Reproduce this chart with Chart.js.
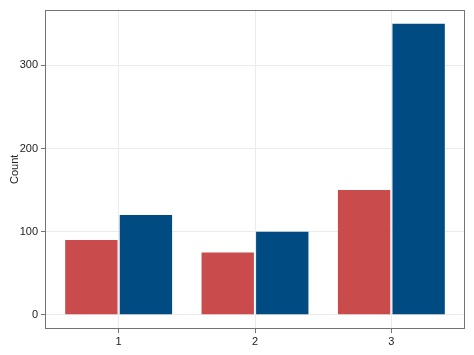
<!DOCTYPE html>
<html>
<head>
<meta charset="utf-8">
<script src="https://cdn.jsdelivr.net/npm/chart.js@4"></script>
<style>html,body{margin:0;padding:0;background:#fff;}canvas{display:block;}</style>
</head>
<body>
<canvas id="c" width="474" height="355"></canvas>
<script>
const categories = [1, 2, 3];
const seriesA = [90, 75, 150];
const seriesB = [120, 100, 350];
const yTicks = [0, 100, 200, 300];
const xTicks = [1, 2, 3];

const frame = {
  id: 'frame',
  afterDraw(chart) {
    const a = chart.chartArea, ctx = chart.ctx;
    ctx.save();
    ctx.strokeStyle = '#737373';
    ctx.lineWidth = 1;
    ctx.strokeRect(Math.round(a.left) + 0.5, Math.round(a.top) + 0.5,
      Math.round(a.right - a.left) - 1, Math.round(a.bottom - a.top) - 1);
    ctx.restore();
  }
};

const font = { family: '"Liberation Sans", Arial, sans-serif', size: 11 };

new Chart(document.getElementById('c'), {
  type: 'bar',
  data: {
    datasets: [
      { data: categories.map((c, i) => ({ x: c, y: seriesA[i] })), backgroundColor: '#c94b4b', borderWidth: 0 },
      { data: categories.map((c, i) => ({ x: c, y: seriesB[i] })), backgroundColor: '#004b82', borderWidth: 0 }
    ]
  },
  options: {
    responsive: false,
    animation: false,
    devicePixelRatio: 1,
    layout: { padding: { left: 0, right: 9, top: 9, bottom: 0 } },
    plugins: { legend: { display: false }, tooltip: { enabled: false } },
    datasets: { bar: { categoryPercentage: 0.8, barPercentage: 0.96 } },
    scales: {
      x: {
        type: 'linear',
        offset: false,
        min: 0.46, max: 3.54,
        afterBuildTicks(s) { s.ticks = xTicks.map(v => ({ value: v })); },
        afterFit(s) { s.height = 26; },
        grid: { color: '#ebebeb', tickColor: '#737373', tickLength: 4, offset: false },
        border: { display: false },
        ticks: { font, color: '#222', padding: 2, maxRotation: 0, autoSkip: false }
      },
      y: {
        type: 'linear',
        min: -17, max: 367,
        afterBuildTicks(s) { s.ticks = yTicks.map(v => ({ value: v })); },
        afterFit(s) { s.width = 45; },
        grid: { color: '#ebebeb', tickColor: '#737373', tickLength: 4 },
        border: { display: false },
        ticks: { font, color: '#222', padding: 3 },
        title: { display: true, text: 'Count', font, color: '#222', padding: { top: 8, bottom: 0 } }
      }
    }
  },
  plugins: [frame]
});
</script>
</body>
</html>
